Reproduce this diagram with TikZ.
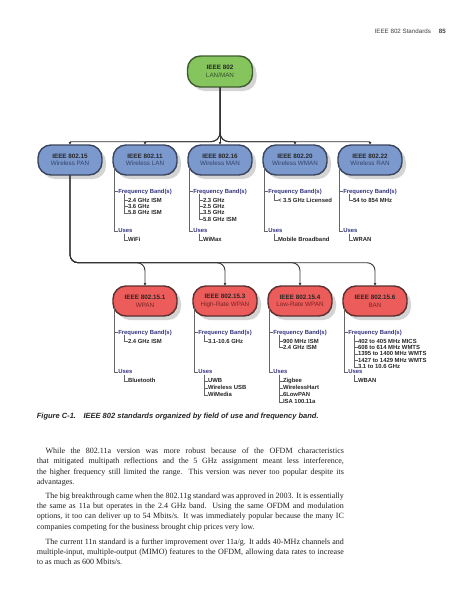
\documentclass[tikz,border=0pt]{standalone}
\usepackage{fontspec}
\setmainfont{Liberation Serif}
\setsansfont{Liberation Sans}
\usepackage{tikz}
\usetikzlibrary{calc,arrows.meta,shadows}
\definecolor{lanfill}{RGB}{134,196,94}
\definecolor{landraw}{RGB}{62,92,46}
\definecolor{lantxt}{RGB}{50,80,40}
\definecolor{wanfill}{RGB}{124,153,206}
\definecolor{wandraw}{RGB}{58,68,92}
\definecolor{wantxt}{RGB}{50,66,105}
\definecolor{panfill}{RGB}{236,92,90}
\definecolor{pandraw}{RGB}{90,48,48}
\definecolor{pantxt}{RGB}{120,36,36}
\definecolor{bandc}{RGB}{52,52,130}
\newcommand\fullline[1]{\makebox[307pt][s]{#1}}
\tikzset{
  std/.style={rectangle,rounded corners=13pt,minimum width=64pt,minimum height=30pt,line width=1.4pt,outer sep=0pt,inner sep=1pt,align=center,
    font=\sffamily\fontsize{6.3}{7.6}\selectfont,text=black!85,drop shadow={shadow xshift=4pt,shadow yshift=-4pt,fill=black!17,opacity=1}},
  lan/.style={std,fill=lanfill,draw=landraw},
  wan/.style={std,fill=wanfill,draw=wandraw},
  pan/.style={std,fill=panfill,draw=pandraw},
  band/.style={anchor=west,inner sep=0pt,outer sep=0pt,text height=4.2pt,text depth=0.8pt,font=\sffamily\bfseries\fontsize{5.9}{6.5}\selectfont,text=bandc},
  item/.style={band,text=black!85},
  twig/.style={draw=black!60,line width=0.5pt},
  bus/.style={draw=black!80,line width=0.9pt},
  feed/.style={bus,-{Latex[length=3pt,width=3pt]}},
  head/.style={anchor=base east,inner sep=0pt,font=\sffamily\fontsize{6.2}{7}\selectfont,text=black!75},
  capt/.style={anchor=base west,inner sep=0pt,font=\sffamily\bfseries\itshape\fontsize{7.5}{9}\selectfont,text=black!85},
  body/.style={anchor=north west,inner sep=0pt,align=left,font=\rmfamily\fontsize{8}{10.1}\selectfont,text=black!88},
}
\begin{document}
\begin{tikzpicture}[x=1pt,y=-1pt]
  \useasboundingbox[fill=white] (0,0) rectangle (474,613);
  \node[head] (runhead) at (446,33.3) {IEEE 802 Standards\hspace{8pt}\textbf{85}};
  % root and the five standards
  \node[lan,minimum width=65pt,minimum height=31pt] (top) at (220,71.5) {\textbf{IEEE 802}\\\textcolor{lantxt}{LAN/MAN}};
  \node[wan] (n15) at (70,160) {\textbf{IEEE 802.15}\\\textcolor{wantxt}{Wireless PAN}};
  \node[wan] (n11) at (145,160) {\textbf{IEEE 802.11}\\\textcolor{wantxt}{Wireless LAN}};
  \node[wan] (n16) at (220,160) {\textbf{IEEE 802.16}\\\textcolor{wantxt}{Wireless MAN}};
  \node[wan] (n20) at (295,160) {\textbf{IEEE 802.20}\\\textcolor{wantxt}{Wireless WMAN}};
  \node[wan] (n22) at (370,160) {\textbf{IEEE 802.22}\\\textcolor{wantxt}{Wireless RAN}};
  \coordinate (hub) at (220,141.7);
  \foreach \n in {n15,n11,n20,n22}{
    \draw[bus,rounded corners=9pt] (top.south) |- (\n.north |- hub);
    \draw[feed] (\n.north |- hub) -- (\n.north);}
  \draw[feed] (top) -- (n16);
  % 802.15 task groups
  \node[pan] (r1) at (145,301) {\textbf{IEEE 802.15.1}\\\textcolor{pantxt}{WPAN}};
  \node[pan] (r3) at (225,301) {\textbf{IEEE 802.15.3}\\\textcolor{pantxt}{High-Rate WPAN}};
  \node[pan] (r4) at (300,301) {\textbf{IEEE 802.15.4}\\\textcolor{pantxt}{Low-Rate WPAN}};
  \node[pan] (r6) at (375,301) {\textbf{IEEE 802.15.6}\\\textcolor{pantxt}{BAN}};
  \coordinate (bus15) at (70,262.7);
  \foreach \n in {r1,r3,r4,r6}
    \draw[feed,rounded corners=8pt] (n15.south) |- (\n.north |- bus15) -- (\n.north);
  % bands and uses
  \foreach \n/\bands/\uses in {n11/{2.4 GHz ISM,3.6 GHz,5.8 GHz ISM}/{WiFi},
      n16/{2.3 GHz,2.5 GHz,3.5 GHz,5.8 GHz ISM}/{WiMax},
      n20/{< 3.5 GHz Licensed}/{Mobile Broadband},
      n22/{54 to 854 MHz}/{WRAN},
      r1/{2.4 GHz ISM}/{Bluetooth},
      r3/{3.1-10.6 GHz}/{UWB,Wireless USB,WiMedia},
      r4/{900 MHz ISM,2.4 GHz ISM}/{Zigbee,WirelessHart,6LowPAN,ISA 100.11a},
      r6/{402 to 405 MHz MICS,608 to 614 MHz WMTS,1395 to 1400 MHz WMTS,1427 to 1429 MHz WMTS,3.1 to 10.6 GHz}/{WBAN}}{
    \node[band] (f\n) at ($(\n.west)+(5.3,31.3)$) {Frequency Band(s)};
    \node[band] (u\n) at ($(\n.west)+(5.3,71)$) {Uses};
    \draw[twig] ($(\n.west)+(0.8,7)$) |- (u\n.west);
    \draw[twig] ([xshift=-4.5pt]f\n.west) -- (f\n.west);
    \foreach \lbl [count=\k] in \bands {
      \node[item] (f\n-\k) at ($(f\n.west)+(9.7,{2.6+6.4*\k})$) {\lbl};
      \draw[twig] ([xshift=6pt]f\n.south west) |- (f\n-\k.west);}
    \foreach \lbl [count=\k] in \uses {
      \node[item] (u\n-\k) at ($(u\n.west)+(9.7,{1.8+7*\k})$) {\lbl};
      \draw[twig] ([xshift=6pt]u\n.south west) |- (u\n-\k.west);}
  }
  \node[capt] (caption) at (36.7,418) {Figure C-1.\hspace{7.5pt}IEEE 802 standards organized by field of use and frequency band.};
  % running text
  \node[body] (para1) at (36.7,448) {\fullline{\hspace*{8.6pt}While the 802.11a version was more robust because of the OFDM characteristics}\\
    \fullline{that mitigated multipath reflections and the 5 GHz assignment meant less interference,}\\
    \fullline{the higher frequency still limited the range. This version was never too popular despite its}\\
    advantages.};
  \node[body] (para2) at (36.7,493) {\fullline{\hspace*{8.6pt}The big breakthrough came when the 802.11g standard was approved in 2003. It is essentially}\\
    \fullline{the same as 11a but operates in the 2.4 GHz band. Using the same OFDM and modulation}\\
    \fullline{options, it too can deliver up to 54 Mbits/s. It was immediately popular because the many IC}\\
    companies competing for the business brought chip prices very low.};
  \node[body] (para3) at (36.7,538.5) {\fullline{\hspace*{8.6pt}The current 11n standard is a further improvement over 11a/g. It adds 40-MHz channels and}\\
    \fullline{multiple-input, multiple-output (MIMO) features to the OFDM, allowing data rates to increase}\\
    to as much as 600 Mbits/s.};
\end{tikzpicture}
\end{document}
